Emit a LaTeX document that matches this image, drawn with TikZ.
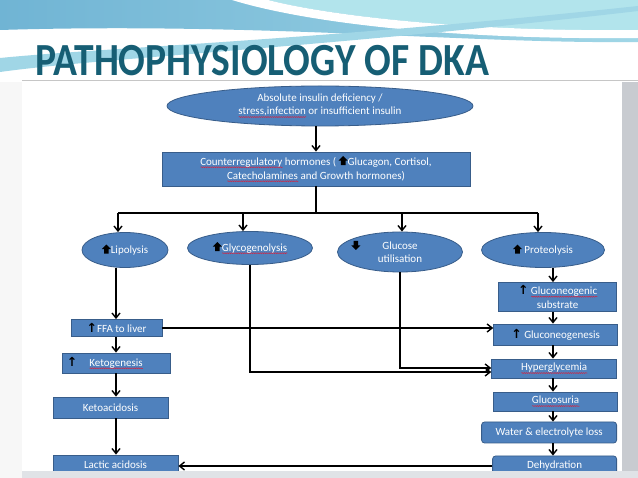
\documentclass[tikz,border=0pt]{standalone}
\usepackage{fontspec}
\setmainfont{Carlito}
\newfontfamily\arrowfont{DejaVu Sans}
\usetikzlibrary{shapes.geometric,arrows.meta,calc,decorations.pathmorphing}
\definecolor{boxblue}{RGB}{79,129,189}
\definecolor{edgeblue}{RGB}{56,93,138}
\definecolor{titleteal}{RGB}{22,94,116}
\definecolor{swooshblue}{RGB}{112,180,212}
\definecolor{swooshlight}{RGB}{160,214,230}
\definecolor{swooshcyan}{RGB}{178,228,236}
\definecolor{spellred}{RGB}{205,40,70}
\definecolor{framegray}{RGB}{200,203,208}
\definecolor{stripgray}{RGB}{224,227,231}

% block arrows and thin arrow used inside the boxes
\newcommand{\upblk}{\tikz[baseline=0pt,x=1pt,y=1pt]\fill[black] (2.2,0) -- (2.2,4.5) -- (0,4.5) -- (4.5,9) -- (9,4.5) -- (6.8,4.5) -- (6.8,0) -- cycle;}
\newcommand{\dnblk}{\tikz[baseline=0pt,x=1pt,y=1pt]\fill[black] (2.2,9) -- (2.2,4.5) -- (0,4.5) -- (4.5,0) -- (9,4.5) -- (6.8,4.5) -- (6.8,9) -- cycle;}
\newcommand{\upthin}{{\arrowfont\bfseries\fontsize{12.5}{12}\selectfont\color{black}↑}}
% red spell-check squiggle under a word
\newlength{\spellwd}
\newcommand{\spell}[1]{\settowidth{\spellwd}{#1}\rlap{\tikz[baseline=0pt]\draw[spellred,line width=0.5pt,decorate,decoration={snake,amplitude=0.5pt,segment length=2.2pt}] (0pt,-2.2pt) -- (\spellwd,-2.2pt);}#1}

\begin{document}
\begin{tikzpicture}[x=1pt,y=-1pt,
  flow/.style={line width=1.4pt, -{Straight Barb[length=5pt,width=8pt]}},
  wire/.style={line width=1.4pt},
  ellbox/.style={ellipse, draw=edgeblue, line width=0.8pt, fill=boxblue, text=white,
    align=center, inner sep=0pt, font=\fontsize{11}{13}\selectfont},
  recbox/.style={rectangle, draw=edgeblue, line width=0.8pt, fill=boxblue, text=white,
    align=center, inner sep=1pt, font=\fontsize{11}{14}\selectfont},
  rndbox/.style={recbox, rounded corners=3pt}]
\useasboundingbox (0,0) rectangle (638,478);
% Slide background and top swoosh
\fill[white] (0,0) rectangle (638,478);
\shade[left color=swooshblue, right color=swooshlight] (0,0) -- (638,0) -- (638,42) .. controls (470,44) and (260,22) .. (0,30) -- cycle;
\fill[swooshcyan] (268,0) .. controls (330,16) and (470,32) .. (638,30) -- (638,0) -- cycle;
\fill[white] (232,0) .. controls (310,24) and (460,40) .. (638,38) -- (638,30) .. controls (470,32) and (330,16) .. (268,0) -- cycle;
\fill[swooshlight] (0,58) .. controls (100,48) and (320,40) .. (638,6) -- (638,11) .. controls (320,48) and (100,58) .. (0,72) -- cycle;
% Title
\node[anchor=base west, text=titleteal, font=\fontsize{46}{46}\bfseries\selectfont,
  xscale=0.86, inner sep=0pt] (title) at (35,76) {PATHOPHYSIOLOGY OF DKA};
% Panel frame
\fill[gray!6] (0,82) rectangle (22,478);
\draw[gray!45, line width=0.6pt] (22,80) -- (638,80);
\fill[framegray] (622,82) rectangle (638,478);

% Top nodes
\node[ellbox, minimum width=306pt, minimum height=40pt] (insulin) at (320,106)
  {Absolute insulin deficiency /\\\spell{stress,infection} or insufficient insulin};
\node[recbox, minimum width=308pt, minimum height=34pt] (counter) at (316,169)
  {\spell{Counterregulatory} hormones ( \upblk Glucagon, Cortisol,\\\spell{Catecholamines} and Growth hormones)};

% Second row ellipses
\node[ellbox, minimum width=86pt, minimum height=35pt] (lipo) at (125,250) {\upblk Lipolysis};
\node[ellbox, minimum width=125pt, minimum height=33pt] (glyco) at (250,248) {\upblk\spell{Glycogenolysis}};
\node[ellbox, minimum width=125pt, minimum height=40pt] (gluc) at (400,252)
  {\llap{\dnblk\hspace{22pt}}Glucose\\utilisation};
\node[ellbox, minimum width=123pt, minimum height=35pt] (prot) at (543,250) {\upblk\ Proteolysis};

% Right column
\node[recbox, anchor=east, minimum width=118pt, minimum height=29pt] (subst) at (617,297)
  {\upthin\ \spell{Gluconeogenic}\\substrate};
\node[recbox, anchor=east, minimum width=124pt, minimum height=21pt] (gneo) at (618,334.5) {\upthin\ Gluconeogenesis};
\node[recbox, anchor=east, minimum width=125pt, minimum height=19pt] (hyper) at (617,368.5) {\spell{Hyperglycemia}};
\node[recbox, anchor=east, minimum width=124pt, minimum height=19pt] (glucos) at (618,401.5) {\spell{Glucosuria}};
\node[rndbox, anchor=east, minimum width=135pt, minimum height=21pt] (water) at (617,432.5) {Water \& electrolyte loss};
\node[rndbox, anchor=east, minimum width=124pt, minimum height=20pt] (dehyd) at (617,466) {Dehydration};

% Left column
\node[recbox, minimum width=91pt, minimum height=17pt] (ffa) at (116.5,328) {\upthin FFA to liver};
\node[recbox, minimum width=108pt, minimum height=20pt] (keto) at (116,363)
  {\llap{\upthin\hspace{12pt}}\spell{Ketogenesis}};
\node[recbox, minimum width=115pt, minimum height=21pt] (ketoac) at (110.5,407.5) {Ketoacidosis};
\node[recbox, minimum width=125pt, minimum height=20pt] (lactic) at (115.5,465) {Lactic acidosis};

% Connectors
\draw[flow] (counter.north |- insulin.south) -- (counter.north);
\coordinate (hub) at (316,213);
\coordinate (tl) at (118,213);
\coordinate (tr) at (538,213);
\draw[wire] (counter.south) -- (hub);
\draw[wire] (tl) -- (tr);
\foreach \n/\x in {lipo/118,glyco/243,gluc/402,prot/538}{
  \coordinate (b\n) at (\x,213);
  \draw[flow] (b\n) -- (b\n |- \n.north);
}
\coordinate (lcol) at (116,0);
\foreach \a/\b in {lipo/ffa,ffa/keto,keto/ketoac,ketoac/lactic}
  \draw[flow] (lcol |- \a.south) -- (lcol |- \b.north);
\coordinate (rcol) at (553,0);
\foreach \a/\b in {prot/subst,subst/gneo,gneo/hyper,hyper/glucos,glucos/water,water/dehyd}
  \draw[flow] (rcol |- \a.south) -- (rcol |- \b.north);
\draw[flow] (ffa.east) -- (ffa.east -| gneo.west);
\draw[flow] (glyco.south) |- ($(hyper.west)+(0,3.5)$);
\draw[flow] (gluc.south) |- ($(hyper.west)+(0,-0.5)$);
\draw[flow] (dehyd.west) -- (dehyd.west -| lactic.east);

% Bottom edge of the slide
\fill[stripgray] (22,471) rectangle (638,478);
\end{tikzpicture}
\end{document}
